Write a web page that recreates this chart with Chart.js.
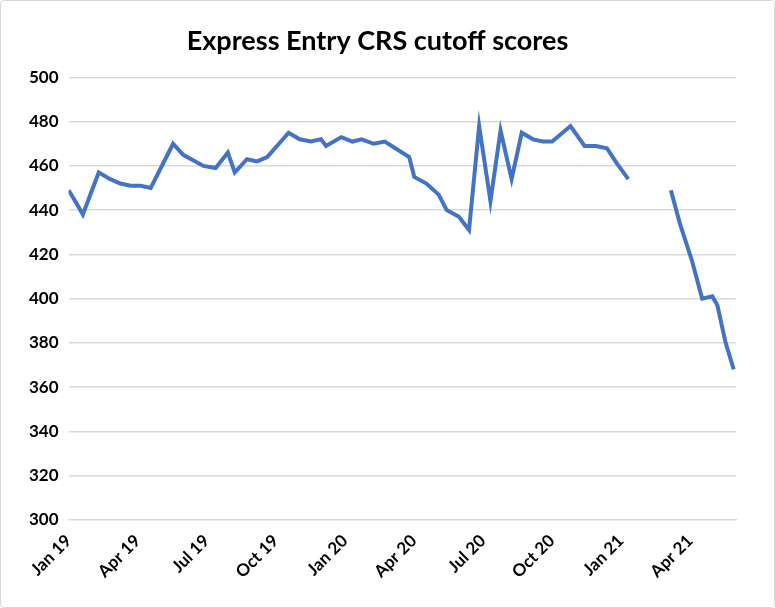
<!DOCTYPE html>
<html>
<head>
<meta charset="utf-8">
<script src="https://cdn.jsdelivr.net/npm/chart.js@4"></script>
<style>
  html, body { margin: 0; padding: 0; background: #fff; }
  #wrap { width: 773px; height: 606px; border: 1px solid #d9d9d9; border-radius: 4px; }
</style>
</head>
<body>
<div id="wrap"><canvas id="chart" width="773" height="606"></canvas></div>
<script>
// months since Jan 2019 for each draw, and CRS cutoff score (null = gap)
const drawMonths = [0, 0.35, 0.62, 1.31, 1.81, 2.25, 2.69, 3.13, 3.57, 4.54, 4.98, 5.86, 6.39, 6.92, 7.22,
  7.75, 8.19, 8.63, 9.56, 10.04, 10.53, 10.97, 11.19, 11.85, 12.33, 12.73, 13.26, 13.74, 14.80, 15.02,
  15.55, 16.08, 16.43, 16.96, 17.40, 17.84, 18.33, 18.77, 19.25, 19.69, 20.18, 20.62, 21.01, 21.81,
  22.42, 22.91, 23.39, 23.83, 24.32, 25.2, 26.17, 26.56, 27.09, 27.53, 27.97, 28.19, 28.55, 28.9];
const cutoffScores = [449, 443, 438, 457, 454, 452, 451, 451, 450, 470, 465, 460, 459, 466, 457,
  463, 462, 464, 475, 472, 471, 472, 469, 473, 471, 472, 470, 471, 464, 455,
  452, 447, 440, 437, 431, 478, 444, 476, 454, 475, 472, 471, 471, 478,
  469, 469, 468, 461, 454, null, 449, 434, 417, 400, 401, 397, 380, 368];
const tickLabels = ['Jan 19', 'Apr 19', 'Jul 19', 'Oct 19', 'Jan 20', 'Apr 20', 'Jul 20', 'Oct 20', 'Jan 21', 'Apr 21'];

const points = drawMonths.map((m, i) => ({ x: m, y: cutoffScores[i] }));
const font = 'Lato, "Open Sans", sans-serif';

new Chart(document.getElementById('chart'), {
    type: 'line',
    data: {
        datasets: [{
            data: points,
            borderColor: '#4472c4',
            borderWidth: 4,
            pointRadius: 0,
            tension: 0,
            spanGaps: false
        }]
    },
    options: {
        responsive: false,
        animation: false,
        layout: { padding: { left: 18, right: 38, top: 10, bottom: 22 } },
        plugins: {
            legend: { display: false },
            tooltip: { enabled: false },
            title: {
                display: true,
                text: 'Express Entry CRS cutoff scores',
                color: '#000',
                font: { family: font, size: 27, weight: 'bold' },
                padding: { top: 14, bottom: 20 }
            }
        },
        scales: {
            x: {
                type: 'linear',
                min: 0,
                max: 29,
                afterBuildTicks: axis => {
                    axis.ticks = tickLabels.map((_, i) => ({ value: i * 3 }));
                },
                ticks: {
                    autoSkip: false,
                    minRotation: 45,
                    maxRotation: 45,
                    color: '#000',
                    font: { family: font, size: 17, weight: 'bold' },
                    callback: v => tickLabels[v / 3]
                },
                grid: { display: false, drawTicks: true },
                border: { color: '#d9d9d9' }
            },
            y: {
                min: 300,
                max: 500,
                ticks: {
                    stepSize: 20,
                    color: '#000',
                    padding: 10,
                    font: { family: font, size: 17, weight: 'bold' }
                },
                grid: { color: '#d9d9d9', lineWidth: 1.5, drawTicks: false },
                border: { display: false }
            }
        }
    }
});
</script>
</body>
</html>
